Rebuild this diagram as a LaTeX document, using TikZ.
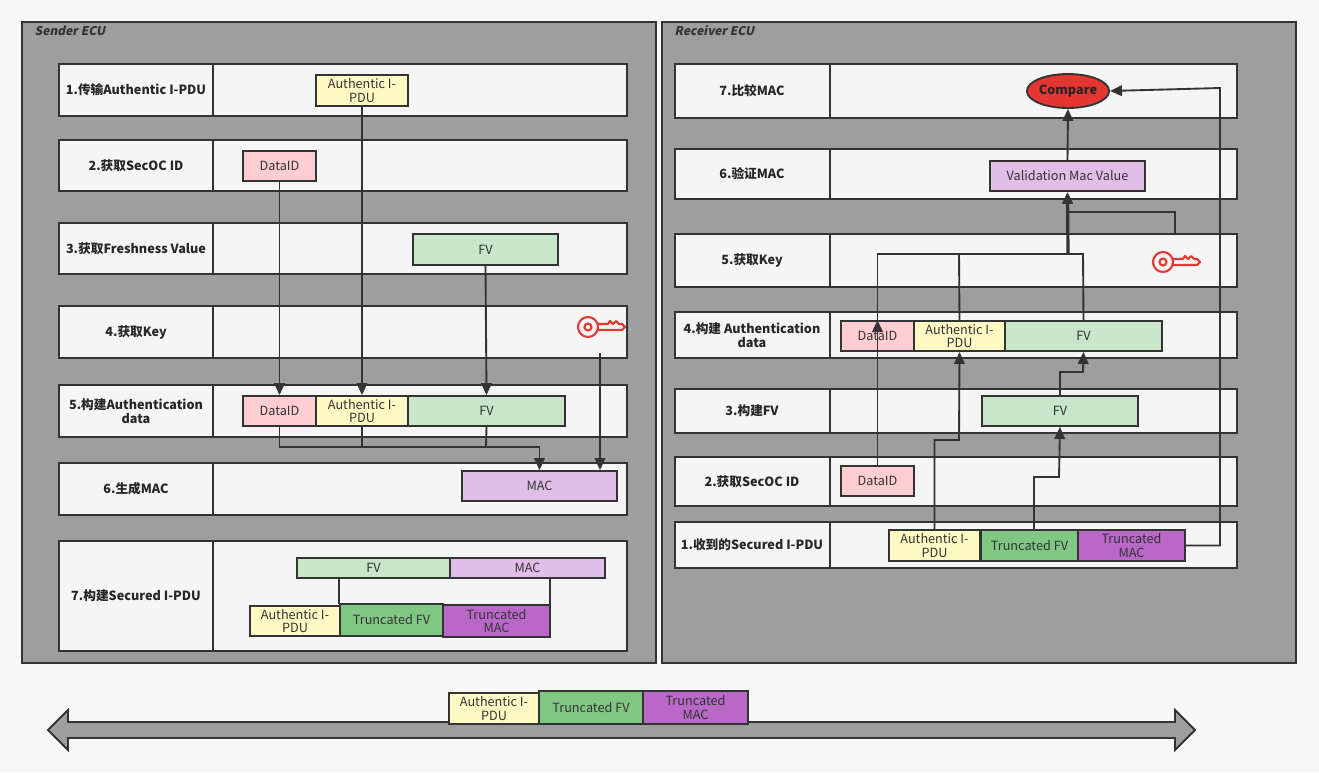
\documentclass[tikz,border=0pt]{standalone}
\usepackage{fontspec}
\setmainfont{Noto Sans CJK SC}[ItalicFeatures={FakeSlant=0.2},BoldItalicFeatures={FakeSlant=0.2}]
\usetikzlibrary{arrows.meta,shapes.geometric}
\definecolor{bg}{HTML}{F7F7F7}
\definecolor{panel}{HTML}{9E9E9E}
\definecolor{cell}{HTML}{F5F5F5}
\definecolor{ln}{HTML}{333333}
\definecolor{cy}{HTML}{FFF9C4}
\definecolor{cp}{HTML}{FFCDD2}
\definecolor{cg}{HTML}{C8E6C9}
\definecolor{cl}{HTML}{E1BEE7}
\definecolor{cgg}{HTML}{81C784}
\definecolor{cm}{HTML}{BA68C8}
\definecolor{kr}{HTML}{E53935}
\begin{document}
\begin{tikzpicture}[x=0.75pt,y=-0.75pt,
 font=\fontsize{9.5}{10}\selectfont,
 panel/.style={draw=ln,line width=1.4pt,fill=panel},
 cellb/.style={draw=ln,line width=1.4pt,fill=cell},
 lab/.style={font=\fontsize{9.5}{10.5}\selectfont\bfseries,align=center,text=black!85},
 bx/.style={draw=ln,line width=1.4pt,align=center,inner sep=0pt,text=black!80},
 ar/.style={draw=ln,line width=1.4pt,-{Triangle[length=9pt,width=8pt]}},
 pl/.style={draw=ln,line width=1.4pt},
 key/.pic={
   \draw[kr,line width=1.6pt] (-12,0) circle (10) (-12,0) circle (3.5);
   \draw[kr,line width=1.6pt,line join=round] (-2,-3) -- (8,-3) -- (10,-6) -- (13,-3) -- (16,-6) -- (19,-3) -- (22,-3) -- (25,0) -- (22,3) -- (-2,3);}
]
\useasboundingbox (0,0) rectangle (1319,772);
\fill[bg] (0,0) rectangle (1319,772);
% panels
\draw[panel] (22,22) rectangle (656,663);
\draw[panel] (662,22) rectangle (1296,663);
\node[anchor=west,font=\fontsize{9}{9}\selectfont\bfseries\itshape,text=black!80] (ts) at (30,31) {Sender ECU};
\node[anchor=west,font=\fontsize{9}{9}\selectfont\bfseries\itshape,text=black!80] (tr) at (670,31) {Receiver ECU};
% sender rows
\foreach \a/\b/\t [count=\i] in {64/116/{1.传输Authentic I-PDU},140/191/{2.获取SecOC ID},223/274/{3.获取Freshness Value},306/358/{4.获取Key},385/437/{5.构建Authentication\\data},463/515/{6.生成MAC},541/651/{7.构建Secured I-PDU}}{
 \draw[cellb] (59,\a) rectangle (627,\b);
 \draw[ln,line width=1.4pt] (213,\a) -- (213,\b);
 \node[lab] (sl\i) at (136,{(\a+\b)/2}) {\t};
}
% receiver rows
\foreach \a/\b/\t [count=\i] in {64/118/{7.比较MAC},149/199/{6.验证MAC},234/287/{5.获取Key},312/358/{4.构建 Authentication\\data},389/433/{3.构建FV},457/506/{2.获取SecOC ID},522/568/{1.收到的Secured I-PDU}}{
 \draw[cellb] (675,\a) rectangle (1237,\b);
 \draw[ln,line width=1.4pt] (830,\a) -- (830,\b);
 \node[lab] (rl\i) at (752,{(\a+\b)/2}) {\t};
}
% sender boxes
\node[bx,fill=cy,minimum width=92pt*0.75,minimum height=31*0.75pt] (sa1) at (362,90.5) {Authentic I-\\PDU};
\node[bx,fill=cp,minimum width=73*0.75pt,minimum height=30*0.75pt] (sd2) at (279.5,166) {DataID};
\node[bx,fill=cg,minimum width=145*0.75pt,minimum height=31*0.75pt] (sf3) at (485.5,249.5) {FV};
\pic at (600,327) {key};
\coordinate (sk) at (600,353);
\node[bx,fill=cp,minimum width=73*0.75pt,minimum height=30*0.75pt] (sd5) at (279.5,411) {DataID};
\node[bx,fill=cy,minimum width=92*0.75pt,minimum height=30*0.75pt] (sa5) at (362,411) {Authentic I-\\PDU};
\node[bx,fill=cg,minimum width=157*0.75pt,minimum height=30*0.75pt] (sf5) at (486.5,411) {FV};
\node[bx,fill=cl,minimum width=155*0.75pt,minimum height=30*0.75pt] (smac) at (539.5,486) {MAC};
\node[bx,fill=cg,minimum width=153*0.75pt,minimum height=20*0.75pt] (sf7) at (373.5,568) {FV};
\node[bx,fill=cl,minimum width=155*0.75pt,minimum height=20*0.75pt] (sm7) at (527.5,568) {MAC};
\node[bx,fill=cy,minimum width=90*0.75pt,minimum height=30*0.75pt] (sa7) at (295,621) {Authentic I-\\PDU};
\node[bx,fill=cgg,minimum width=103*0.75pt,minimum height=32*0.75pt] (stf7) at (391.5,620) {Truncated FV};
\node[bx,fill=cm,minimum width=107*0.75pt,minimum height=32*0.75pt] (stm7) at (496.5,621) {Truncated\\MAC};
% sender connectors
\draw[ar] (sd2.south) -- (sd5.north);
\draw[ar] (sa1.south) -- (sa5.north);
\draw[ar] (sf3.south) -- (sf5.north);
\draw[ar] (sk) -- (smac.north -| sk);
\draw[pl] (sd5.south) |- (362,447);
\draw[pl] (sa5.south) -- (362,447);
\draw[pl] (sf5.south) -- (486,447);
\draw[ar] (280,447) -| (smac.north);
\draw[pl] (sf7.south -| 339,0) -- (339,604);
\draw[pl] (sm7.south -| 550,0) -- (550,605);
% receiver boxes
\node[ellipse,draw=ln,line width=1.4pt,fill=kr!95!red,minimum width=76*0.75pt,minimum height=34*0.75pt,inner sep=0pt,font=\fontsize{9.5}{10}\selectfont\bfseries,text=black!85] (cmp) at (1068,91) {Compare};
\node[bx,fill=cl,minimum width=155*0.75pt,minimum height=30*0.75pt] (vmac) at (1067.5,176) {Validation Mac Value};
\pic at (1175,262) {key};
\coordinate (rk) at (1175,234);
\coordinate (rj) at (1068,254);
\node[bx,fill=cp,minimum width=73*0.75pt,minimum height=30*0.75pt] (rd4) at (877.5,336) {DataID};
\node[bx,fill=cy,minimum width=91*0.75pt,minimum height=30*0.75pt] (ra4) at (959.5,336) {Authentic I-\\PDU};
\node[bx,fill=cg,minimum width=157*0.75pt,minimum height=30*0.75pt] (rf4) at (1083.5,336) {FV};
\node[bx,fill=cg,minimum width=156*0.75pt,minimum height=30*0.75pt] (rf3) at (1060,411) {FV};
\node[bx,fill=cp,minimum width=73*0.75pt,minimum height=30*0.75pt] (rd2) at (877.5,481) {DataID};
\node[bx,fill=cy,minimum width=91*0.75pt,minimum height=31*0.75pt] (ra1) at (934.5,545.5) {Authentic I-\\PDU};
\node[bx,fill=cgg,minimum width=97*0.75pt,minimum height=31*0.75pt] (rtf1) at (1029.5,545.5) {Truncated FV};
\node[bx,fill=cm,minimum width=107*0.75pt,minimum height=31*0.75pt] (rtm1) at (1131.5,545.5) {Truncated\\MAC};
% receiver connectors
\draw[ar] (vmac.north) -- (cmp.south);
\draw[ar,line width=2.4pt] (rj) -- (vmac.south);
\draw[pl] (rk) |- (1068,212);
\draw[pl] (rd4.north) |- (rf4.north |- rj);
\draw[pl] (ra4.north) -- (959,254);
\draw[pl] (rf4.north) -- (1083,254);
\draw[ar] (rd2.north) -- (rd4.north);
\draw[ar] (ra1.north) |- (959,440) -- (ra4.south);
\draw[ar] (1034,530) |- (1059,477) -- (rf3.south);
\draw[ar] (rf3.north) |- (1083,372) -- (rf4.south);
\draw[ar] (rtm1.east) -| (1220,88) -- (cmp.east);
% bottom
\draw[draw=ln,line width=1.4pt,fill=panel] (48,730) -- (68,710) -- (68,722) -- (1175,722) -- (1175,710) -- (1195,730) -- (1175,750) -- (1175,738) -- (68,738) -- (68,750) -- cycle;
\node[bx,fill=cy,minimum width=90*0.75pt,minimum height=31*0.75pt] (ba) at (494,708.5) {Authentic I-\\PDU};
\node[bx,fill=cgg,minimum width=104*0.75pt,minimum height=33*0.75pt] (btf) at (591,707.5) {Truncated FV};
\node[bx,fill=cm,minimum width=105*0.75pt,minimum height=33*0.75pt] (btm) at (695.5,707.5) {Truncated\\MAC};
\end{tikzpicture}
\end{document}
